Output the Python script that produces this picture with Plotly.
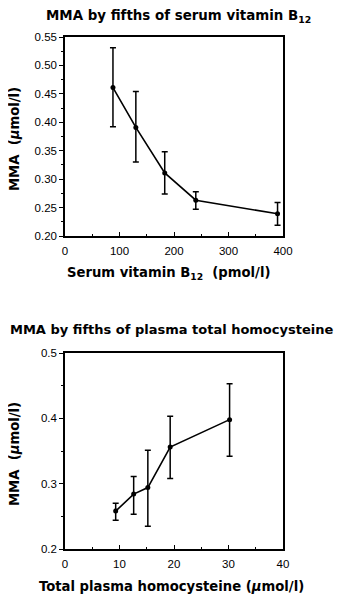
import plotly.graph_objects as go

# ---- Data: top panel (MMA by fifths of serum vitamin B12) ----
b12_x = [88, 130, 183, 240, 390]
b12_mma = [0.461, 0.391, 0.311, 0.263, 0.239]
b12_upper = [0.531, 0.454, 0.348, 0.278, 0.259]
b12_lower = [0.392, 0.330, 0.274, 0.247, 0.219]

# ---- Data: bottom panel (MMA by fifths of plasma total homocysteine) ----
hcy_x = [9.3, 12.6, 15.2, 19.3, 30.2]
hcy_mma = [0.258, 0.284, 0.294, 0.356, 0.398]
hcy_upper = [0.270, 0.311, 0.351, 0.403, 0.453]
hcy_lower = [0.244, 0.253, 0.235, 0.308, 0.342]

top_title = "MMA by fifths of serum vitamin B<sub>12</sub>"
top_xtitle = "Serum vitamin B<sub>12</sub>  (pmol/l)"
bot_title = "MMA by fifths of plasma total homocysteine"
bot_xtitle = "Total plasma homocysteine (<i>μ</i>mol/l)"
ytitle = "MMA  (<i>μ</i>mol/l)"

# page body has an 8px default margin -> figure is 336x592, offset by 8px
OFF = 8
W, H = 344 - OFF, 600 - OFF
BLACK = "black"
TITLE_FONT = dict(family="DejaVu Sans", size=13.4, color=BLACK, weight="bold")
TITLE2_FONT = dict(family="DejaVu Sans", size=13.0, color=BLACK, weight="bold")
AXT_FONT = dict(family="DejaVu Sans", size=13.2, color=BLACK, weight="bold")
TICK_FONT = dict(family="Liberation Sans", size=11.5, color=BLACK)


def err(mean, up, lo):
    return (
        [u - m for u, m in zip(up, mean)],
        [m - l for m, l in zip(mean, lo)],
    )


fig = go.Figure()

e_up, e_lo = err(b12_mma, b12_upper, b12_lower)
fig.add_trace(go.Scatter(
    x=b12_x, y=b12_mma, mode="lines+markers",
    line=dict(color=BLACK, width=1.6),
    marker=dict(color=BLACK, size=5),
    error_y=dict(type="data", symmetric=False, array=e_up, arrayminus=e_lo,
                 color=BLACK, thickness=1.5, width=3),
    xaxis="x", yaxis="y", showlegend=False,
))

e_up2, e_lo2 = err(hcy_mma, hcy_upper, hcy_lower)
fig.add_trace(go.Scatter(
    x=hcy_x, y=hcy_mma, mode="lines+markers",
    line=dict(color=BLACK, width=1.6),
    marker=dict(color=BLACK, size=5),
    error_y=dict(type="data", symmetric=False, array=e_up2, arrayminus=e_lo2,
                 color=BLACK, thickness=1.5, width=3),
    xaxis="x2", yaxis="y2", showlegend=False,
))


def px_x(p):
    return (p - OFF) / W


def px_y(p):
    return 1 - (p - OFF) / H


common_x = dict(showline=True, linecolor=BLACK, linewidth=1.5, mirror=True,
                ticks="inside", ticklen=4, tickwidth=1, tickcolor=BLACK,
                showgrid=False, zeroline=False, tickfont=TICK_FONT,
                ticklabelstandoff=3, automargin=False)
common_y = dict(showline=True, linecolor=BLACK, linewidth=1.5, mirror=True,
                ticks="outside", ticklen=4, tickwidth=1, tickcolor=BLACK,
                showgrid=False, zeroline=False, tickfont=TICK_FONT,
                automargin=False)

fig.update_layout(
    template="none",
    width=W, height=H,
    margin=dict(l=0, r=0, t=0, b=0, pad=0),
    paper_bgcolor="white", plot_bgcolor="white",
    xaxis=dict(common_x, domain=[px_x(65), px_x(283)], range=[0, 400],
               dtick=100, tick0=0, anchor="y",
               minor=dict(ticks="inside", ticklen=2, dtick=50, tickcolor=BLACK)),
    yaxis=dict(common_y, domain=[px_y(236), px_y(37)], range=[0.2, 0.55],
               dtick=0.05, tick0=0.2, tickformat=".2f", anchor="x",
               minor=dict(ticks="outside", ticklen=2, dtick=0.025, tickcolor=BLACK)),
    xaxis2=dict(common_x, domain=[px_x(65), px_x(283)], range=[0, 40],
                dtick=10, tick0=0, anchor="y2",
                minor=dict(ticks="inside", ticklen=2, dtick=5, tickcolor=BLACK)),
    yaxis2=dict(common_y, domain=[px_y(549), px_y(353)], range=[0.2, 0.5],
                dtick=0.1, tick0=0.2, tickformat=".1f", anchor="x2",
                minor=dict(ticks="outside", ticklen=2, dtick=0.05, tickcolor=BLACK)),
    annotations=[
        dict(text=top_title, x=px_x(178), y=px_y(16.5), xref="paper", yref="paper",
             showarrow=False, font=TITLE_FONT, xanchor="center", yanchor="middle"),
        dict(text=top_xtitle, x=px_x(168), y=px_y(273), xref="paper", yref="paper",
             showarrow=False, font=AXT_FONT, xanchor="center", yanchor="middle"),
        dict(text=ytitle, x=px_x(14), y=px_y(139), xref="paper", yref="paper",
             showarrow=False, font=AXT_FONT, xanchor="center", yanchor="middle",
             textangle=-90),
        dict(text=bot_title, x=px_x(171), y=px_y(329), xref="paper", yref="paper",
             showarrow=False, font=TITLE2_FONT, xanchor="center", yanchor="middle"),
        dict(text=bot_xtitle, x=px_x(171), y=px_y(586), xref="paper", yref="paper",
             showarrow=False, font=AXT_FONT, xanchor="center", yanchor="middle"),
        dict(text=ytitle, x=px_x(14), y=px_y(454), xref="paper", yref="paper",
             showarrow=False, font=AXT_FONT, xanchor="center", yanchor="middle",
             textangle=-90),
    ],
)

fig.write_html("out.html")
